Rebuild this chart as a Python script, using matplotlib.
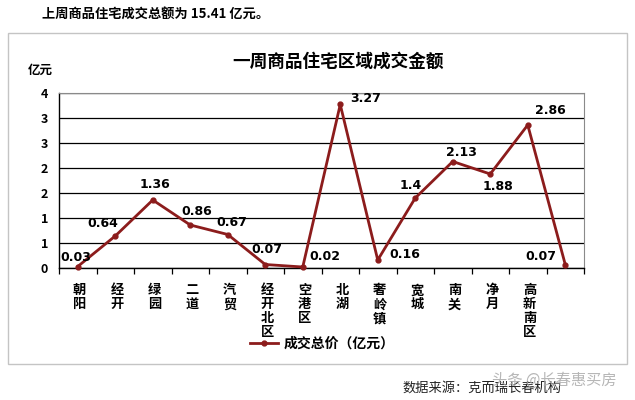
#一周商品住宅区域成交金额 line chart
import numpy as np
import matplotlib.pyplot as plt
from matplotlib.patches import Rectangle

plt.rcParams['font.family'] = ['Noto Sans CJK SC', 'DejaVu Sans']

districts = ["朝阳", "经开", "绿园", "二道", "汽贸", "经开北区", "空港区",
             "北湖", "奢岭镇", "宽城", "南关", "净月", "高新南区", ""]
values = [0.03, 0.64, 1.36, 0.86, 0.67, 0.07, 0.02, 3.27, 0.16, 1.4,
          2.13, 1.88, 2.86, 0.07]
value_labels = ["0.03", "0.64", "1.36", "0.86", "0.67", "0.07", "0.02",
                "3.27", "0.16", "1.4", "2.13", "1.88", "2.86", "0.07"]
ytick_values = [0, 0.5, 1, 1.5, 2, 2.5, 3, 3.5]
ytick_labels = ["0", "1", "1", "2", "2", "3", "3", "4"]

# label offsets in pixels
offsets = [(-2, 9), (-12, 13), (2, 15), (6, 14), (4, 12), (2, 15), (22, 10),
           (25, 6), (27, 6), (-5, 13), (9, 9), (8, -12), (23, 14), (-24, 8)]

W, H = 635, 400
red = "#8c1c1c"

def main():
    fig = plt.figure(figsize=(W / 100, H / 100), dpi=100)
    fig.patch.set_facecolor("white")

    # outer chart frame
    fig.patches.append(Rectangle((8 / W, 1 - 364 / H), 619 / W, 331 / H,
                                 transform=fig.transFigure, fill=False,
                                 edgecolor="#c4c4c4", linewidth=1))

    fig.text(42 / W, 1 - 14 / H, "上周商品住宅成交总额为 15.41 亿元。",
             fontsize=9.5, fontweight="bold", va="center", ha="left")
    fig.text(338 / W, 1 - 62 / H, "一周商品住宅区域成交金额",
             fontsize=12.7, fontweight="bold", va="center", ha="center")
    fig.text(28 / W, 1 - 70 / H, "亿元", fontsize=9, fontweight="bold",
             va="center", ha="left")

    ax = fig.add_axes([59 / W, 1 - 268 / H, 525 / W, 175 / H])
    x = np.arange(len(values))
    ax.plot(x, values, color=red, linewidth=2, marker="o", markersize=3.5,
            zorder=3, clip_on=False)
    for xi, v, lab, off in zip(x, values, value_labels, offsets):
        ax.annotate(lab, (xi, v), xytext=off, textcoords="offset pixels",
                    ha="center", va="center", fontsize=9, fontweight="bold",
                    family="DejaVu Sans")

    ax.set_xlim(-0.5, len(values) - 0.5)
    ax.set_ylim(0, 3.5)
    ax.set_yticks(ytick_values)
    ax.set_yticklabels(ytick_labels, fontsize=9, fontweight="bold")
    ax.tick_params(axis="y", length=0, pad=8)
    ax.yaxis.grid(True, color="black", linewidth=0.9)
    ax.set_axisbelow(True)

    # tick marks on category boundaries, labels stacked vertically
    ax.set_xticks(np.arange(len(values) + 1) - 0.5, minor=True)
    ax.tick_params(axis="x", which="minor", length=4, width=0.9, direction="out")
    ax.set_xticks(x + 0.05)
    ax.set_xticklabels(["\n".join(d) for d in districts], fontsize=9.5,
                       fontweight="bold", linespacing=1.0, va="top")
    ax.tick_params(axis="x", which="major", length=0, pad=11)

    for side in ["top", "right"]:
        ax.spines[side].set_color("#8a8a8a")
    for side in ["left", "bottom"]:
        ax.spines[side].set_color("black")
        ax.spines[side].set_linewidth(1)

    fig.legend([ax.lines[0]], ["成交总价（亿元）"], loc="center",
               bbox_to_anchor=(322 / W, 1 - 344 / H), frameon=False,
               prop={"size": 10, "weight": "bold"}, handlelength=2.0,
               handletextpad=0.4)

    fig.text(402 / W, 1 - 388 / H, "数据来源：克而瑞长春机构", fontsize=9.5,
             va="center", ha="left", color="#222222")
    fig.text(492 / W, 1 - 380 / H, "头条 @长春惠买房", fontsize=11,
             va="center", ha="left", color="#aaaaaa", alpha=0.85)

    fig.savefig("out.png", dpi=100)

if __name__ == "__main__":
    main()
